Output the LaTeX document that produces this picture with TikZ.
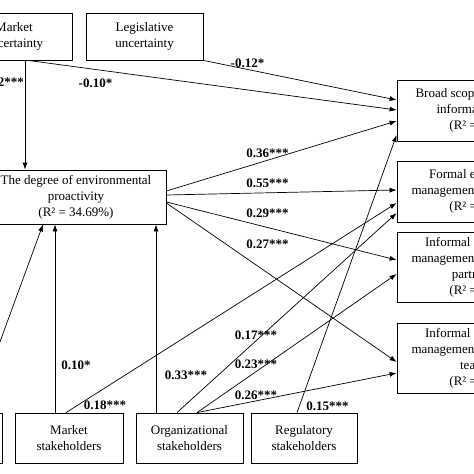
\documentclass[tikz,border=0pt]{standalone}
\usepackage{fontspec}
\setmainfont{Liberation Serif}
\usetikzlibrary{arrows.meta}
\newcommand{\fs}{\fontsize{13}{16}\selectfont}
\begin{document}
\begin{tikzpicture}[x=1pt,y=-1pt,
  box/.style={draw, line width=0.8pt, inner sep=0pt, align=center, font=\fs},
  lab/.style={font=\fs\bfseries, inner sep=0pt},
  arr/.style={-{Latex[length=7pt,width=5pt]}, line width=0.7pt}]
\useasboundingbox (0,0) rectangle (474,474);
\fill[white] (0,0) rectangle (474,474);
\clip (0,0) rectangle (474,474);
% top boxes
\node[box, minimum width=116, minimum height=47] (mu) at (14,36.5) {Market\\uncertainty};
\node[box, minimum width=117, minimum height=47] (lu) at (144.5,36.5) {Legislative\\uncertainty};
% central box
\node[box, minimum width=180, minimum height=54] (ep) at (76,197) {The degree of environmental\\proactivity\\(R² = 34.69\%)};
% right boxes
\node[box, minimum width=180, minimum height=61] (bs) at (487,110.5) {Broad scope environmental\\information system\\(R² = 27.14\%)};
\node[box, minimum width=180, minimum height=61] (fe) at (487,191.5) {Formal environmental\\management control systems\\(R² = 36.05\%)};
\node[box, minimum width=180, minimum height=70] (ip) at (487,267) {Informal environmental\\management control systems\\partners level\\(R² = 21.38\%)};
\node[box, minimum width=180, minimum height=70] (it) at (487,358) {Informal environmental\\management control systems\\team level\\(R² = 24.52\%)};
% bottom boxes
\node[box, minimum width=104, minimum height=50] (xs) at (-50,438) {};
\node[box, minimum width=108, minimum height=50] (ms) at (69,438) {Market\\stakeholders};
\node[box, minimum width=107, minimum height=50] (os) at (189.5,438) {Organizational\\stakeholders};
\node[box, minimum width=106, minimum height=50] (rs) at (304,438) {Regulatory\\stakeholders};
% connectors
\draw[arr] ([xshift=11pt]mu.south) -- ([xshift=11pt]mu.south |- ep.north);
\draw[arr] ([xshift=14pt]mu.south) -- ([yshift=0.5pt]bs.west);
\draw[arr] (lu.south east) -- ([yshift=10.5pt]bs.west);
\draw[arr] ([yshift=6pt]ep.east) -- ([yshift=-10.5pt]bs.west);
\draw[arr] ([yshift=2pt]ep.east) -- ([yshift=1.5pt]fe.west);
\draw[arr] ([yshift=-5pt]ep.east) -- ([yshift=7pt]ip.west);
\draw[arr] ([yshift=-6pt]ep.east) -- ([yshift=-4pt]it.west);
\draw[arr] ([xshift=24pt]xs.north) -- ([xshift=-33pt]ep.south);
\draw[arr] ([xshift=-14pt]ms.north) -- ([xshift=-14pt]ms.north |- ep.south);
\draw[arr] ([xshift=-3pt]ms.north) -- ([yshift=-11.5pt]fe.west);
\draw[arr] ([xshift=-33.5pt]os.north) -- ([xshift=-33.5pt]os.north |- ep.south);
\draw[arr] ([xshift=-12.5pt]os.north) -- ([yshift=-21.5pt]fe.west);
\draw[arr] ([xshift=7.5pt]os.north) -- ([yshift=-7pt]ip.west);
\draw[arr] ([xshift=7.5pt]os.north) -- ([yshift=-15pt]it.west);
\draw[arr] ([xshift=-7pt]rs.north) -- ([yshift=-24.5pt]bs.west);
% labels
\node[lab, anchor=east] (l1) at (24,82) {0.32***};
\node[lab] (l2) at (95.5,83) {-0.10*};
\node[lab] (l3) at (247.5,63) {-0.12*};
\node[lab] (l4) at (267.5,153) {0.36***};
\node[lab] (l5) at (267.5,183) {0.55***};
\node[lab] (l6) at (267.5,213) {0.29***};
\node[lab] (l7) at (267.5,244) {0.27***};
\node[lab] (l8) at (76,365) {0.10*};
\node[lab] (l9) at (105,405) {0.18***};
\node[lab] (l10) at (186,375) {0.33***};
\node[lab] (l11) at (256,335) {0.17***};
\node[lab] (l12) at (256,364) {0.23***};
\node[lab] (l13) at (256,395) {0.26***};
\node[lab] (l14) at (327.5,406) {0.15***};
\end{tikzpicture}
\end{document}
